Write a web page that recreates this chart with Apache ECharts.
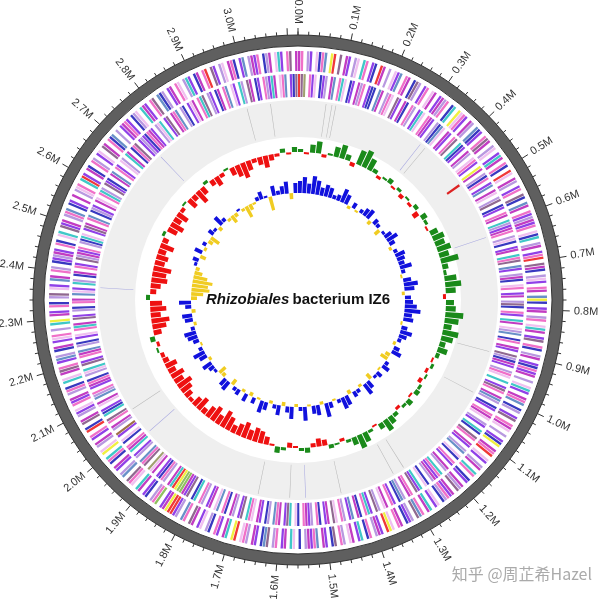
<!DOCTYPE html>
<html>
<head>
<meta charset="utf-8">
<script src="https://cdn.jsdelivr.net/npm/echarts@6/dist/echarts.min.js"></script>
<style>html,body{margin:0;background:#fff}#main{width:600px;height:601px}</style>
</head>
<body>
<div id="main"></div>
<script>
// genome length in Mb
var GENOME = 3.12;
var tickLabels = ['0.0M','0.1M','0.2M','0.3M','0.4M','0.5M','0.6M','0.7M','0.8M','0.9M','1.0M','1.1M','1.2M','1.3M','1.4M','1.5M','1.6M','1.7M','1.8M','1.9M','2.0M','2.1M','2.2M','2.3M','2.4M','2.5M','2.6M','2.7M','2.8M','2.9M','3.0M'];

// COG colours of the CDS rings
var cogColors = {a:'#c23cc2',b:'#9040e8',c:'#3838c0',d:'#f070c8',e:'#b898e0',f:'#40c8c8',g:'#f0f040',
  h:'#f03838',i:'#90c060',j:'#906890',k:'#f0c0f0',l:'#a0a070',m:'#6890c8',n:'#a07048'};

// forward strand CDS, one letter per bin, '.' = no gene
var fwdGenes =
  'ad.eb.kcdm.gh.j.ab.ek.fd.bc.ha.e.kbm.da.cje.bd.ka.' +
  'baed.cf.gkdb.ae.mcb.dja.ek.bfa.dc.hk.ae.bd.jc.ma.db' +
  'eabd.kcf.ea.bdh.jac.ekb.da.mgc.ba.ed.kfa.bj.dc.ea.b' +
  'cdba.e.kfb.adm.ce.bj.dak.e.bcg.adh.kb.ea.fd.cb.aej.' +
  'abdec.kb.fa.dmj.ebc.ad.kgh.bae.dc.fb.ak.ed.jc.ba.m' +
  'dbae.c.kf.ab.de.jmc.ba.edk.hg.fa.bd.ce.kb.aj.dm.eb' +
  'hhgab.ide.cb.af.kdj.me.ba.cdf.gk.ea.bd.hc.ja.ebk.d' +
  'ba.edc.fk.ajd.bme.ca.bkd.e.fg.ab.dc.ej.kb.ma.de.cb' +
  'eab.dc.kf.jba.edm.cb.a.ekd.fhb.ac.de.bk.ja.dcm.e.b' +
  'adb.cek.fab.dj.mce.ba.dk.efb.ca.dh.jb.ek.adc.bm.ea' +
  'bd.cea.kfb.dj.a';

// reverse strand CDS
var revGenes =
  'hjl.dbk.cbe.am.dfk.cb.aed.bcc.ma.edk.jb.ac.de.bfk.' +
  'dab.ecmk.ab.dj.fcb.ae.kdb.ga.ecd.bm.ak.ej.cb.da.fe' +
  'bad.ekc.ba.fdj.mb.eac.kd.ba.ejc.db.fa.kem.cd.ab.je' +
  'cab.edk.f.bjd.ame.cb.dak.eb.fc.jd.ab.em.kc.db.ae.f' +
  'dbae.ck.fbj.da.emc.bd.ak.ej.bfd.ca.mb.ed.kj.ab.cd.' +
  'ebad.ck.fjb.adm.ec.ba.kdf.jb.ea.cd.mk.ab.ed.fc.jba' +
  'iighfa.edcb.akl.jdm.eb.fad.ck.bn.ea.dj.fcb.ka.med.' +
  'badc.ekf.jb.dam.ec.bk.dfa.jb.ec.da.mkb.fe.ca.db.je' +
  'abd.ecfk.bja.dm.ceb.ak.dfe.jbc.am.db.ke.fa.cdj.beb' +
  'cdab.ekf.bj.adm.ec.bka.dfj.eb.ca.dm.kb.fe.ja.cb.de' +
  'bfa.kdm.bcj';

// rRNA / tRNA loci in the grey ring (Mb)
var rnaPos = [0.07,0.085,0.095,0.33,0.345,0.62,0.91,1.02,1.28,1.31,1.45,1.54,1.58,1.66,1.98,2.05,2.37,2.74,2.99,3.05];
var rnaBlue = [0.33,0.62,1.54,1.98,2.37,2.74];
var redMark = [0.47];

// GC content deviation, 20 kb windows (positive = green outward)
var gcContent = [3,-2,8,12,-3,2,10,14,6,-4, 15,18,12,4,-3,2,5,-2,3,-4,
  2,-3,4,-6,6,3,-2,8,12,10, 14,10,18,6,3,12,16,10,-3,8,
  10,18,14,8,16,12,6,10,4,-2, 3,-3,2,-4,3,5,-2,6,3,-3,
  4,8,12,6,-2,3,10,14,8,3, -3,2,4,-6,-8,-4,5,3,-2,-5,
  3,6,-2,-8,-12,-14,-10,-16,-12,-8, -14,-18,-10,-16,-12,-6,-14,-10,-4,-8,
  -12,-16,-10,-14,-8,-12,-6,-4,2,-3, 5,-8,-14,-18,-10,-16,-12,4,-6,-10,
  -16,-14,-18,-10,-12,-8,-14,-6,3,-10, -14,-8,-12,-4,2,-10,-6,-14,-8,3,
  -6,-10,-4,2,-8,-12,-16,-10,-4,-8, -12,-6,-3,4,-2,5];

// GC skew, 20 kb windows (positive = blue outward)
var gcSkew = [12,16,10,18,14,8,12,10,4,6, 14,10,-3,6,-2,4,8,10,-4,6,
  4,-6,3,8,12,6,-3,4,10,8, 6,12,4,-2,8,14,10,-3,6,8,
  12,16,8,10,-2,6,12,8,4,-3, 6,10,-5,-8,4,8,-2,6,3,-6,
  8,12,-3,4,6,-4,10,12,4,-2, 6,14,-3,10,8,-2,14,4,-3,12,
  6,-4,10,4,-3,8,12,-2,6,-4, 8,-3,6,4,-6,10,8,-4,-8,3,
  6,10,-3,8,12,4,-2,6,10,12, 4,-3,8,10,-4,6,12,-6,-12,-18,
  -16,-20,-14,-8,-4,3,6,-6,8,-3, 4,-5,-10,6,3,-4,10,4,-3,-8,
  -4,2,-3,-12,-6,-2,4,8,2,-14, 10,4,8,12,-6,10];

var chart = echarts.init(document.getElementById('main'));

// sector between radii r0..r1 and genome positions a0..a1, via polar coords
function arc(params, api, r0, r1, a0, a1, color) {
  var cs = params.coordSys;
  var p0 = api.coord([r1, a0]), p1 = api.coord([r1, a1]);
  var t0 = Math.atan2(p0[1] - cs.cy, p0[0] - cs.cx);
  var t1 = Math.atan2(p1[1] - cs.cy, p1[0] - cs.cx);
  if (t1 < t0) t1 += Math.PI * 2;
  return {type: 'sector', shape: {cx: cs.cx, cy: cs.cy, r0: r0, r: r1, startAngle: t0, endAngle: t1, clockwise: true},
    style: {fill: color}};
}

function geneData(str) {
  var bin = GENOME / str.length, out = [];
  for (var i = 0; i < str.length; i++) {
    if (str[i] !== '.') out.push({pos: i * bin, cog: str[i], bin: bin});
  }
  return out;
}
function geneRing(str, r0, r1) {
  var genes = geneData(str);
  return {
    type: 'custom', coordinateSystem: 'polar', silent: true,
    data: genes.map(function (g) { return [r0, g.pos]; }),
    renderItem: function (params, api) {
      var g = genes[params.dataIndex];
      return arc(params, api, r0, r1, g.pos, g.pos + g.bin * 0.8, cogColors[g.cog]);
    }
  };
}
function barRing(values, base, pos, neg) {
  var bin = 0.02;
  return {
    type: 'custom', coordinateSystem: 'polar', silent: true,
    data: values.map(function (v, i) { return [base, i * bin]; }),
    renderItem: function (params, api) {
      var i = params.dataIndex, a = i * bin, v = values[i];
      var r0 = v >= 0 ? base : base + v, r1 = v >= 0 ? base + v : base;
      if (Math.abs(v) < 1.5) { r0 = base - 1.5; r1 = base + 1.5; }
      return arc(params, api, r0, r1, a, Math.min(a + bin * 0.85, GENOME), v >= 0 ? pos : neg);
    }
  };
}
function band(r0, r1, color, stroke) {
  return {
    type: 'custom', coordinateSystem: 'polar', silent: true, data: [[r0, 0]],
    renderItem: function (params, api) {
      var cs = params.coordSys;
      return {type: 'ring', shape: {cx: cs.cx, cy: cs.cy, r0: r0, r: r1},
        style: {fill: color, stroke: stroke || null, lineWidth: stroke ? 1 : 0}};
    }
  };
}

var ticks = [];
for (var t = 0; t <= GENOME * 50; t++) ticks.push({v: t / 50, major: t % 5 === 0});

var option = {
  backgroundColor: '#fff',
  animation: false,
  polar: {center: [298, 300], radius: 280},
  angleAxis: {type: 'value', min: 0, max: GENOME, startAngle: 90, clockwise: true, show: false},
  radiusAxis: {type: 'value', min: 0, max: 280, show: false},
  series: [
    band(254, 265, '#5f5f5f', '#333'),
    band(163, 200, '#efefef'),
    geneRing(fwdGenes, 229, 249),
    geneRing(revGenes, 203, 226),
    // RNA loci
    {
      type: 'custom', coordinateSystem: 'polar', silent: true,
      data: rnaPos.map(function (p) { return [165, p]; }),
      renderItem: function (params, api) {
        var p = rnaPos[params.dataIndex];
        var c = rnaBlue.indexOf(p) >= 0 ? '#a8a8e0' : '#b8b8b8';
        return arc(params, api, 165, 198, p, p + 0.0015, c);
      }
    },
    {
      type: 'custom', coordinateSystem: 'polar', silent: true,
      data: redMark.map(function (p) { return [183, p]; }),
      renderItem: function (params, api) {
        var p = redMark[params.dataIndex];
        return arc(params, api, 183, 198, p, p + 0.006, '#dd2222');
      }
    },
    barRing(gcContent, 148, '#1a8a1a', '#ee1111'),
    barRing(gcSkew, 107, '#1111dd', '#f0cc22'),
    // scale ticks and labels
    {
      type: 'custom', coordinateSystem: 'polar', silent: true,
      data: ticks.map(function (k) { return [265, k.v]; }),
      renderItem: function (params, api) {
        var k = ticks[params.dataIndex], v = k.v;
        var p0 = api.coord([265, v]), p1 = api.coord([k.major ? 272 : 268.5, v]);
        var kids = [{type: 'line', shape: {x1: p0[0], y1: p0[1], x2: p1[0], y2: p1[1]}, style: {stroke: '#333', lineWidth: 1}}];
        if (k.major) {
          var idx = Math.round(v * 10);
          var th = v / GENOME * Math.PI * 2;
          var outward = th > 0.001 && th <= Math.PI;
          var lp = api.coord([276, v]);
          kids.push({type: 'text', x: lp[0], y: lp[1], rotation: outward ? Math.PI / 2 - th : -Math.PI / 2 - th,
            style: {text: tickLabels[idx], fill: '#333', fontSize: 11, fontFamily: 'Liberation Sans',
              align: outward ? 'left' : 'right', verticalAlign: 'middle'}});
        }
        return {type: 'group', children: kids};
      }
    }
  ],
  graphic: [
    {type: 'text', x: 298, y: 300, style: {
      text: '{i|Rhizobiales} {b|bacterium IZ6}', align: 'center', verticalAlign: 'middle',
      rich: {i: {fontStyle: 'italic', fontWeight: 'bold', fontSize: 15, fontFamily: 'Liberation Sans', fill: '#111'},
             b: {fontWeight: 'bold', fontSize: 15, fontFamily: 'Liberation Sans', fill: '#111'}}}},
    {type: 'text', right: 8, top: 566, style: {
      text: '知乎 @周芷希Hazel', fill: '#aaa', fontSize: 16, fontFamily: 'Noto Sans CJK SC'}}
  ]
};
chart.setOption(option);
</script>
</body>
</html>
